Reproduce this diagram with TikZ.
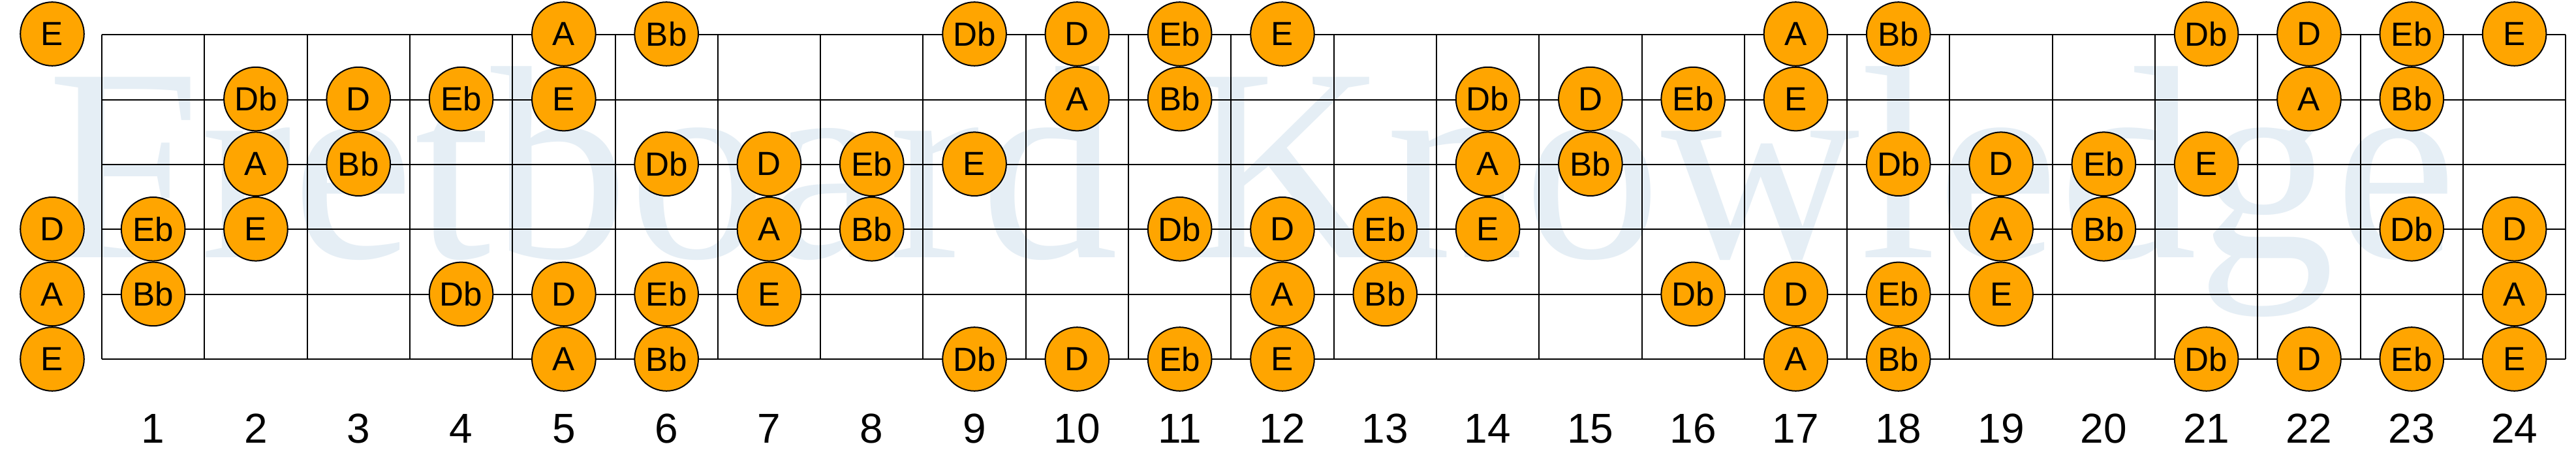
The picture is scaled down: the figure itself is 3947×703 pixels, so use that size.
\documentclass[tikz,border=0pt]{standalone}
\usepackage{fontspec}
\setmainfont{Liberation Sans}
\newfontfamily\wmfont{Liberation Serif}
\definecolor{noteorange}{RGB}{255,165,0}
\definecolor{wmblue}{RGB}{229,238,245}
\newcommand\notesrow[2]{%
  \foreach \f/\t in {#2}{%
    \pgfmathsetmacro\xx{\f==0 ? 80 : 156+(\f-0.5)*157.3}%
    \node[note] (n#1-\f) at (\xx,{52+#1*99.6}) {\t};%
  }%
}
\begin{document}
\begin{tikzpicture}[x=0.25pt,y=-0.25pt,
  gridline/.style={line width=0.5pt,draw=black},
  note/.style={circle,draw=black,line width=0.5pt,fill=noteorange,minimum size=24.4pt,inner sep=0pt,font=\fontsize{12.8}{15}\selectfont},
  fretnum/.style={inner sep=0pt,font=\fontsize{16}{19}\selectfont},
  watermark/.style={inner sep=0pt,text=wmblue,font=\wmfont\fontsize{105.5}{120}\selectfont}]
\fill[white] (0,0) rectangle (3947,703);
\useasboundingbox (0,0) rectangle (3947,703);
\node[watermark,anchor=base west] (wm) at (72,395) {Fretboard Knowledge};
\foreach \i in {0,...,24}
  \draw[gridline] ({156+\i*157.3},53.5) -- ({156+\i*157.3},550);
\foreach \j in {0,...,5}
  \draw[gridline] (156,{53.5+\j*99.3}) -- (3931.2,{53.5+\j*99.3});
\foreach \n in {1,...,24}
  \node[fretnum,anchor=base] (fn\n) at ({156+(\n-0.5)*157.3},679) {\n};
\notesrow{0}{0/E,5/A,6/Bb,9/Db,10/D,11/Eb,12/E,17/A,18/Bb,21/Db,22/D,23/Eb,24/E}
\notesrow{1}{2/Db,3/D,4/Eb,5/E,10/A,11/Bb,14/Db,15/D,16/Eb,17/E,22/A,23/Bb}
\notesrow{2}{2/A,3/Bb,6/Db,7/D,8/Eb,9/E,14/A,15/Bb,18/Db,19/D,20/Eb,21/E}
\notesrow{3}{0/D,1/Eb,2/E,7/A,8/Bb,11/Db,12/D,13/Eb,14/E,19/A,20/Bb,23/Db,24/D}
\notesrow{4}{0/A,1/Bb,4/Db,5/D,6/Eb,7/E,12/A,13/Bb,16/Db,17/D,18/Eb,19/E,24/A}
\notesrow{5}{0/E,5/A,6/Bb,9/Db,10/D,11/Eb,12/E,17/A,18/Bb,21/Db,22/D,23/Eb,24/E}
\end{tikzpicture}
\end{document}
